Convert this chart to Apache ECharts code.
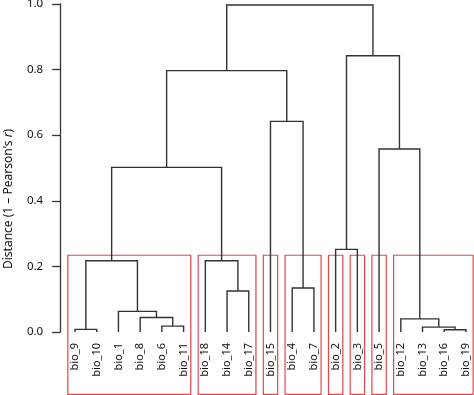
<!DOCTYPE html>
<html><head><meta charset="utf-8">
<script src="https://cdn.jsdelivr.net/npm/echarts@6/dist/echarts.min.js"></script>
<style>html,body{margin:0;padding:0;background:#fff}#c{width:474px;height:395px}</style>
</head><body><div id="c"></div>
<script>
// Leaf order (x axis categories)
const leaves = ['bio_9','bio_10','bio_1','bio_8','bio_6','bio_11','bio_18','bio_14','bio_17','bio_15','bio_4','bio_7','bio_2','bio_3','bio_5','bio_12','bio_13','bio_16','bio_19'];
// Merges (hclust style): children are leaf names or 'm<k>' = k-th merge
const mergeLeft   = ['bio_9','bio_6','bio_8','bio_1','m0','bio_14','bio_18','m4','bio_4','bio_15','m7','bio_2','bio_16','bio_13','bio_12','bio_5','m11','m10'];
const mergeRight  = ['bio_10','bio_11','m1','m2','m3','bio_17','m5','m6','bio_7','m8','m9','bio_3','bio_19','m12','m13','m14','m15','m16'];
const mergeHeight = [0.008,0.018,0.044,0.063,0.217,0.125,0.217,0.502,0.134,0.642,0.797,0.252,0.007,0.015,0.040,0.558,0.842,0.997];
// Cluster groups highlighted by red boxes
const clusters = [
  ['bio_9','bio_10','bio_1','bio_8','bio_6','bio_11'],
  ['bio_18','bio_14','bio_17'],
  ['bio_15'],
  ['bio_4','bio_7'],
  ['bio_2'],
  ['bio_3'],
  ['bio_5'],
  ['bio_12','bio_13','bio_16','bio_19']
];
const yTickLabels = ['0.0','0.2','0.4','0.6','0.8','1.0'];
const boxCut = 0.234;

// node positions derived from the tree structure
const nodeX = {}, nodeY = {};
leaves.forEach((l, i) => { nodeX[l] = i; nodeY[l] = 0; });
mergeHeight.forEach((h, k) => {
  const a = mergeLeft[k], b = mergeRight[k];
  nodeX['m' + k] = (nodeX[a] + nodeX[b]) / 2;
  nodeY['m' + k] = h;
});
const treeData = mergeHeight.map((h, k) => [nodeX[mergeLeft[k]], nodeY[mergeLeft[k]], nodeX[mergeRight[k]], nodeY[mergeRight[k]], h]);
const boxData = clusters.map(g => [leaves.indexOf(g[0]), leaves.indexOf(g[g.length - 1]), boxCut]);

const FONT = 'Noto Sans';
const chart = echarts.init(document.getElementById('c'), null, {renderer: 'canvas'});
chart.setOption({
  animation: false,
  backgroundColor: '#fff',
  grid: {left: 64.14, right: -2.82, top: 4, bottom: 63, containLabel: false, outerBoundsMode: 'none'},
  xAxis: [{
    type: 'category', data: leaves, boundaryGap: true,
    axisLine: {show: false, onZero: false}, axisTick: {show: false}, splitLine: {show: false},
    axisLabel: {interval: 0, rotate: 90, margin: 11, fontSize: 11, fontFamily: FONT, color: '#111'}
  }, {
    type: 'value', min: -0.5, max: 18.5, show: false, axisLine: {onZero: false}
  }],
  yAxis: {
    type: 'value', min: 0, max: 1, interval: 0.2, offset: 4,
    axisLine: {show: true, onZero: false, lineStyle: {color: '#333', width: 1.3}},
    axisTick: {show: true, length: 8, lineStyle: {color: '#333', width: 1.3}},
    splitLine: {show: false},
    axisLabel: {margin: 17, fontSize: 11.5, fontFamily: FONT, color: '#111',
      formatter: v => yTickLabels[Math.round(v / 0.2)]},
    name: '{n|Distance (1 – Pearson\'s }{i|r}{n|)}',
    nameLocation: 'middle', nameRotate: 90, nameGap: 46,
    nameTextStyle: {padding: [0, 62, 0, 0],
      rich: {n: {fontSize: 12, fontFamily: FONT, color: '#111'},
             i: {fontSize: 12, fontFamily: FONT, fontStyle: 'italic', color: '#111'}}}
  },
  series: [{
    type: 'custom', xAxisIndex: 1, yAxisIndex: 0, clip: false,
    data: boxData,
    renderItem: (params, api) => {
      const p0 = api.coord([api.value(0) - 0.33, api.value(2)]);
      const p1 = api.coord([api.value(1) + 0.33, -0.19]);
      return {type: 'rect', shape: {x: p0[0], y: p0[1], width: p1[0] - p0[0], height: p1[1] - p0[1]},
        style: {fill: 'none', stroke: '#e4474d', lineWidth: 1.2}};
    }
  }, {
    type: 'custom', xAxisIndex: 1, yAxisIndex: 0, clip: false,
    data: treeData,
    renderItem: (params, api) => {
      const a0 = api.coord([api.value(0), api.value(1)]);
      const a1 = api.coord([api.value(0), api.value(4)]);
      const b1 = api.coord([api.value(2), api.value(4)]);
      const b0 = api.coord([api.value(2), api.value(3)]);
      return {type: 'polyline', shape: {points: [a0, a1, b1, b0]},
        style: {fill: 'none', stroke: '#333', lineWidth: 1.4}};
    }
  }]
});
</script></body></html>
